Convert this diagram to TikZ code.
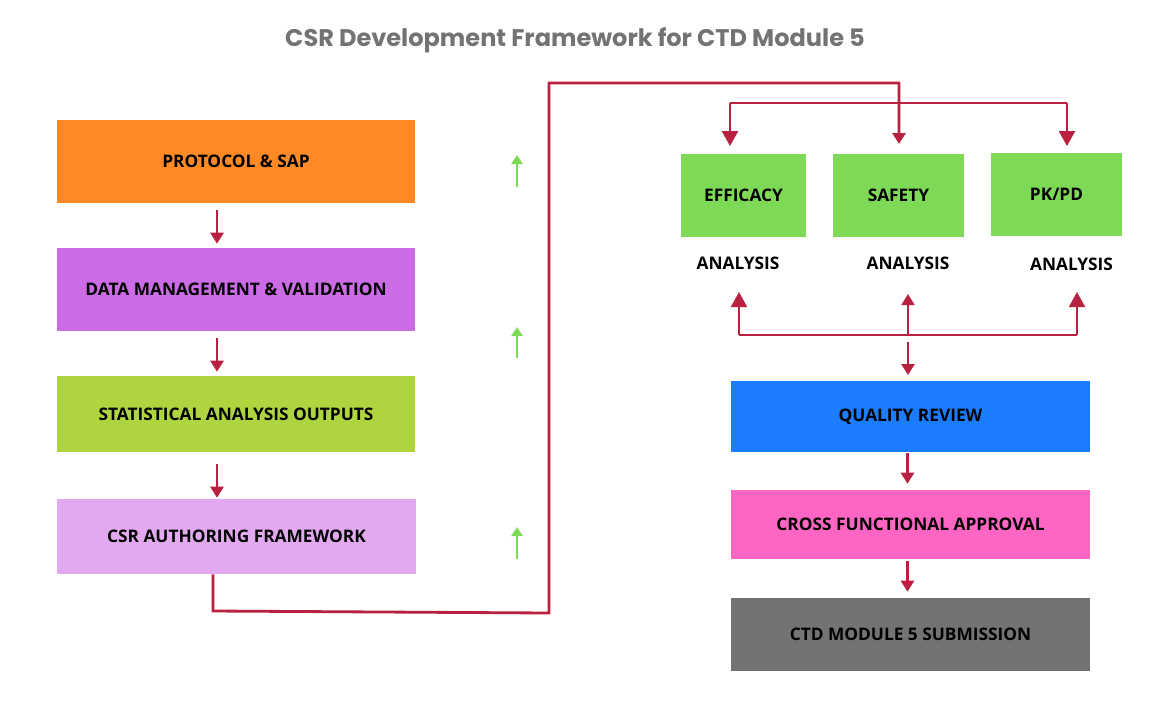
\documentclass[tikz,border=0pt]{standalone}
\usepackage{fontspec}
\setmainfont{Open Sans}
\newfontfamily\titlefont{Poppins}
\usetikzlibrary{arrows.meta}
\definecolor{flowred}{HTML}{B8213F}
\definecolor{arrowgreen}{HTML}{7ED957}
\definecolor{titlegray}{HTML}{737373}
\definecolor{protocolfill}{HTML}{FF8A25}
\definecolor{datafill}{HTML}{CB6CE6}
\definecolor{statfill}{HTML}{AED53F}
\definecolor{authorfill}{HTML}{E2A9F1}
\definecolor{qualityfill}{HTML}{1C7CFF}
\definecolor{approvalfill}{HTML}{FF66C4}
\newcommand{\px}{0.025cm}
\begin{document}
\begin{tikzpicture}[x=0.025cm, y=0.025cm,
    label text/.style={font=\fontsize{12.3}{14}\selectfont\bfseries, text=black, inner sep=0pt},
    wide box/.style={label text, minimum width=358*\px},
    small box/.style={label text, minimum width=128*\px, minimum height=83*\px, fill=arrowgreen},
    flow/.style={draw=flowred, line width=1.8pt, line join=miter},
    thin flow/.style={draw=flowred, line width=1.3pt},
    big tip/.style={-{Triangle[length=15*\px, width=16*\px]}},
    small tip/.style={-{Triangle[length=11*\px, width=13*\px]}},
    up arrow/.style={draw=arrowgreen, line width=2pt, -{Triangle[length=9*\px, width=11*\px]}}]
    \useasboundingbox (0,0) rectangle (1160,-700);
    \node [font=\titlefont\fontsize{17.1}{20}\selectfont\bfseries, text=titlegray, inner sep=0pt] (title) at (575,-40) {CSR Development Framework for CTD Module 5};

    % left column
    \node [wide box, minimum height=83*\px, fill=protocolfill] (protocol) at (236,-161.5) {PROTOCOL \& SAP};
    \node [wide box, minimum height=83*\px, fill=datafill] (data) at (236,-289.5) {DATA MANAGEMENT \& VALIDATION};
    \node [wide box, minimum height=76*\px, fill=statfill] (stat) at (236,-414) {STATISTICAL ANALYSIS OUTPUTS};
    \node [wide box, minimum height=75*\px, minimum width=359*\px, fill=authorfill] (author) at (236.5,-536.5) {CSR AUTHORING FRAMEWORK};

    % analysis boxes
    \node [small box, minimum width=125*\px] (efficacy) at (743.5,-195.5) {EFFICACY};
    \node [small box, minimum width=131*\px] (safety) at (898.5,-195.5) {SAFETY};
    \node [small box, minimum width=131*\px] (pkpd) at (1056.5,-194.5) {PK/PD};
    \node [label text] (efficacytext) at (738,-263.5) {ANALYSIS};
    \node [label text] (safetytext) at (908,-263.5) {ANALYSIS};
    \node [label text] (pkpdtext) at (1071.5,-264.5) {ANALYSIS};

    % right column
    \node [wide box, minimum height=71*\px, minimum width=359*\px, fill=qualityfill] (quality) at (910.5,-416.5) {QUALITY REVIEW};
    \node [wide box, minimum height=69*\px, minimum width=359*\px, fill=approvalfill] (approval) at (910.5,-524.5) {CROSS FUNCTIONAL APPROVAL};
    \node [wide box, minimum height=73*\px, minimum width=359*\px, fill=titlegray] (ctd) at (910.5,-634.5) {CTD MODULE 5 SUBMISSION};

    % helper coordinates
    \coordinate (leftline) at (217,-300);
    \coordinate (rightline) at (907.5,-300);
    \coordinate (routeleft) at (213,-611);
    \coordinate (routelow) at (549,-613);
    \coordinate (routetop) at (549,-83);
    \coordinate (routeright) at (899,-83);
    \coordinate (splitleft) at (730,-103);
    \coordinate (splitright) at (1067,-103);
    \coordinate (effline) at (730,-146);
    \coordinate (pkline) at (1067,-146);
    \coordinate (safeline) at (899,-144);
    \coordinate (joinmid) at (908,-335);
    \coordinate (joinleft) at (739,-335);
    \coordinate (joinright) at (1077,-335);
    \coordinate (tipleft) at (739,-292);
    \coordinate (tipmid) at (908,-294);
    \coordinate (tipright) at (1077,-292);
    \coordinate (qualitystart) at (908,-342);
    \coordinate (qualityend) at (908,-375);

    % left arrows
    \draw [flow, small tip, shorten <=7*\px, shorten >=4*\px] (protocol.south -| leftline) -- (data.north -| leftline);
    \draw [flow, small tip, shorten <=7*\px, shorten >=4*\px] (data.south -| leftline) -- (stat.north -| leftline);
    \draw [flow, small tip, shorten <=12*\px, shorten >=1*\px] (stat.south -| leftline) -- (author.north -| leftline);

    % long route
    \draw [flow, small tip, line width=2pt] (author.south -| routeleft) -- (routeleft) -- (routelow) -- (routetop) -- (routeright) -- (safeline);
    \draw [flow, big tip] (splitleft) -- (effline);
    \draw [flow, big tip] (splitright) -- (pkline);
    \draw [flow] (splitleft) -- (splitright);

    % lower fan
    \draw [thin flow] (joinleft) -- (joinright);
    \draw [thin flow, big tip] (joinleft) -- (tipleft);
    \draw [thin flow, big tip] (joinright) -- (tipright);
    \draw [thin flow, small tip] (joinmid) -- (tipmid);
    \draw [flow, small tip] (qualitystart) -- (qualityend);

    % right arrows
    \draw [flow, small tip, shorten <=1*\px, shorten >=6*\px] (quality.south -| rightline) -- (approval.north -| rightline);
    \draw [flow, small tip, shorten <=2*\px, shorten >=6*\px] (approval.south -| rightline) -- (ctd.north -| rightline);

    % green arrows
    \coordinate (greenafrom) at (517,-187);
    \coordinate (greenato) at (517,-155);
    \coordinate (greenbfrom) at (517,-358);
    \coordinate (greenbto) at (517,-327);
    \coordinate (greencfrom) at (517,-559);
    \coordinate (greencto) at (517,-527);
    \draw [up arrow] (greenafrom) -- (greenato);
    \draw [up arrow] (greenbfrom) -- (greenbto);
    \draw [up arrow] (greencfrom) -- (greencto);
\end{tikzpicture}
\end{document}
